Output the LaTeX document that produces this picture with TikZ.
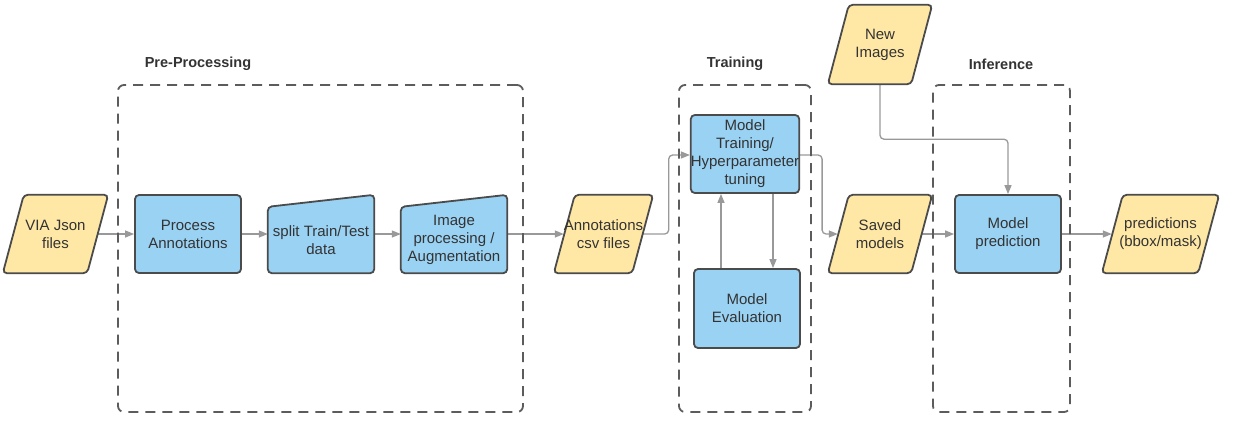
\documentclass[tikz,border=0pt]{standalone}
\usepackage{fontspec}
\setmainfont{Liberation Sans}
\usetikzlibrary{arrows.meta}
\definecolor{yel}{HTML}{FFE8A5}
\definecolor{blu}{HTML}{9AD2F4}
\definecolor{edgec}{HTML}{4B4B4B}
\definecolor{connc}{HTML}{999999}
\definecolor{grpc}{HTML}{5C5C5C}
\definecolor{txtc}{HTML}{333333}
\pgfdeclarelayer{bgl}
\pgfdeclarelayer{midl}
\pgfdeclarelayer{shpl}
\pgfsetlayers{bgl,midl,shpl,main}
\newcommand\myparashape[1]{\draw[shapeline,fill=yel] ([xshift=21pt]#1.north west) -- (#1.north east) -- ([xshift=-21pt]#1.south east) -- (#1.south west) -- cycle;}
\newcommand\mytrapshape[1]{\draw[shapeline,fill=blu] ([yshift=-6pt]#1.north west) -- ([yshift=6pt]#1.north east) -- ([yshift=6pt]#1.south east) -- ([yshift=6pt]#1.south west) -- cycle;}
\begin{document}
\begin{tikzpicture}[x=1pt,y=-1pt,
  lbl/.style={text=txtc,align=center,font=\fontsize{15}{18}\selectfont,inner sep=0pt},
  base/.style={lbl,minimum width=106pt,minimum height=78pt},
  procbox/.style={base,rectangle,fill=blu,draw=edgec,line width=1.8pt,rounded corners=4pt},
  shapeline/.style={draw=edgec,line width=1.8pt,rounded corners=4pt},
  hdr/.style={text=txtc,font=\fontsize{14.5}{17.5}\selectfont\bfseries,inner sep=0pt},
  grp/.style={draw=grpc,line width=1.8pt,dash pattern=on 10pt off 7pt,rounded corners=6pt,inner sep=0pt},
  conn/.style={draw=connc,line width=1.3pt,-{Triangle[length=9pt,width=7pt]},rounded corners=4pt}]
\useasboundingbox (0,0) rectangle (1238,445);

% nodes
\node[base,minimum width=105pt] (via) at (55.5,234) {VIA Json\\files};
\node[procbox] (proc) at (188,234) {Process\\Annotations};
\node[base] (split) at (321,240) {split Train/Test\\data};
\node[base] (img) at (454,240) {Image\\processing /\\Augmentation};
\node[base,minimum width=99pt] (csv) at (603.5,234) {Annotations\\csv files};
\node[procbox] (mtrain) at (745,154) {Model\\Training/\\Hyperparameter\\tuning};
\node[procbox,minimum height=79pt] (meval) at (747,308.5) {Model\\Evaluation};
\node[base,minimum width=104pt] (saved) at (880,234) {Saved\\models};
\node[base,minimum width=104pt,minimum height=79pt] (newimg) at (880,44.5) {New\\Images};
\node[procbox] (mpred) at (1008,234) {Model\\prediction};
\node[base,minimum width=117pt] (pred) at (1160.5,234) {predictions\\(bbox/mask)};

\node[hdr] (hpre) at (198,64) {Pre-Processing};
\node[hdr] (htrain) at (735,64) {Training};
\node[hdr] (hinf) at (1001,64) {Inference};

% shapes
\begin{pgfonlayer}{shpl}
\myparashape{via}
\myparashape{csv}
\myparashape{saved}
\myparashape{newimg}
\myparashape{pred}
\mytrapshape{split}
\mytrapshape{img}
\end{pgfonlayer}

% groups
\begin{pgfonlayer}{midl}
\node[grp,minimum width=405pt,minimum height=327pt] (gpre) at (320.5,248.5) {};
\node[grp,minimum width=132pt,minimum height=327pt] (gtrain) at (745,248.5) {};
\node[grp,minimum width=137pt,minimum height=327pt] (ginf) at (1001.5,248.5) {};
\end{pgfonlayer}

% connectors
\begin{pgfonlayer}{bgl}
\draw[conn] ([xshift=-10.5pt]via.east) -- (proc.west);
\draw[conn] (proc.east) -- (split.west |- proc.east);
\draw[conn] (split.east |- proc.east) -- (img.west |- proc.east);
\draw[conn] (img.east |- proc.east) -- ([xshift=10pt]csv.west);
\draw[conn] ([xshift=-10pt]csv.east) -- ++(25.5,0) |- ([yshift=-1pt]mtrain.west);
\draw[conn] ([yshift=-1pt]mtrain.east) -- ++(22,0) |- ([xshift=10pt]saved.west);
\draw[conn] ([xshift=28pt]mtrain.south) -- ([xshift=28pt]mtrain.south |- meval.north);
\draw[conn] ([xshift=-26pt]meval.north) -- ([xshift=-26pt]meval.north |- mtrain.south);
\draw[conn] ([xshift=-10pt]saved.east) -- (mpred.west);
\draw[conn] (newimg.south) -- ++(0,55) -| (mpred.north);
\draw[conn] (mpred.east) -- ([xshift=10pt]pred.west);
\end{pgfonlayer}
\end{tikzpicture}
\end{document}
